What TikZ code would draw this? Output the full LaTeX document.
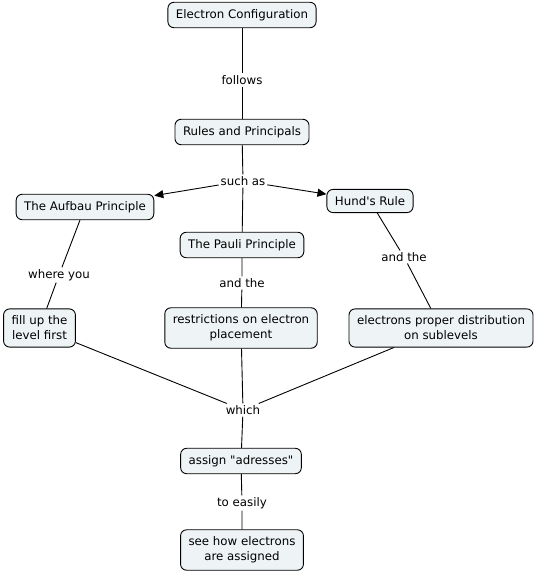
\documentclass[tikz,border=0pt]{standalone}
\usepackage{fontspec}
\setmainfont{DejaVu Sans}[Ligatures=TeXOff]
\usetikzlibrary{arrows.meta}
\definecolor{conceptfill}{HTML}{EEF3F5}
\begin{document}
\begin{tikzpicture}[x=1pt, y=-1pt, line width=0.9pt,
  every node/.style={font=\fontsize{11.8}{15}\selectfont},
  concept/.style={draw, fill=conceptfill, rounded corners=6pt, align=center,
    inner xsep=8pt, inner ysep=7pt},
  linkword/.style={inner sep=1.5pt},
  link/.style={draw},
  arrowlink/.style={draw, -{Triangle[length=9pt, width=8pt]}}]
  \useasboundingbox (0,0) rectangle (536,573);
  % Concepts
  \node[concept] (config) at (242,15)  {Electron Configuration};
  \node[concept] (rules)  at (242,132) {Rules and Principals};
  \node[concept] (aufbau) at (85,207)  {The Aufbau Principle};
  \node[concept] (hund)   at (370,201) {Hund's Rule};
  \node[concept] (pauli)  at (242,245) {The Pauli Principle};
  \node[concept] (fill)   at (39.5,328)  {fill up the\\level first};
  \node[concept] (restr)  at (241,328) {restrictions on electron\\placement};
  \node[concept] (distr)  at (441,328) {electrons proper distribution\\on sublevels};
  \node[concept] (assign) at (241,461) {assign "adresses"};
  \node[concept] (see)    at (242,550) {see how electrons\\are assigned};
  % Linking phrases
  \node[linkword] (follows) at (242,80)  {follows};
  \node[linkword] (suchas)  at (243,181) {such as};
  \node[linkword] (where)   at (59,275)  {where you};
  \node[linkword] (andmid)  at (242,283) {and the};
  \node[linkword] (andright) at (404,257) {and the};
  \node[linkword] (which)   at (243,410) {which};
  \node[linkword] (easily)  at (242,503) {to easily};
  % Connectors
  \draw[link] (config) -- (follows) -- (rules);
  \draw[link] (rules) -- (suchas);
  \draw[arrowlink] (suchas) -- (aufbau);
  \draw[arrowlink] (suchas) -- (hund);
  \draw[link] (suchas) -- (pauli);
  \draw[link] (aufbau) -- (where) -- (fill);
  \draw[link] (pauli) -- (andmid) -- (restr);
  \draw[link] (hund) -- (andright) -- (distr);
  \draw[link] (fill) -- (which);
  \draw[link] (restr) -- (which);
  \draw[link] (distr) -- (which);
  \draw[link] (which) -- (assign);
  \draw[link] (assign) -- (easily) -- (see);
\end{tikzpicture}
\end{document}
